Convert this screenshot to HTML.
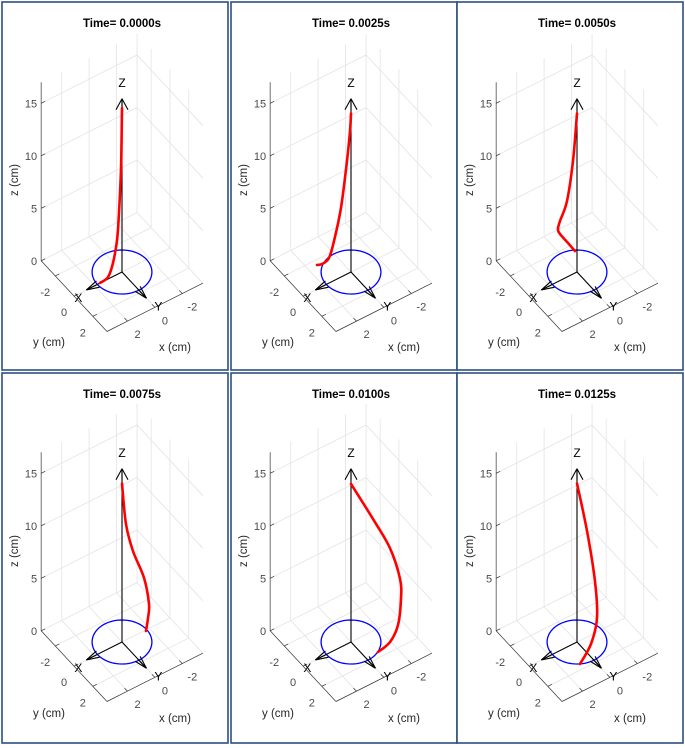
<!DOCTYPE html>
<html><head><meta charset="utf-8"><style>
html,body{margin:0;padding:0;background:#fff;}
svg{display:block;font-family:"Liberation Sans",Arial,sans-serif;}
</style></head><body>
<svg id="fig" width="685" height="748" viewBox="0 0 685 748"></svg>
<script>
// ---- data ----
const titles = ["Time= 0.0000s","Time= 0.0025s","Time= 0.0050s","Time= 0.0075s","Time= 0.0100s","Time= 0.0125s"];
const zTicks = [0,5,10,15];
const xyTicks = [-2,0,2];
const rodX0 = [0,0.07,0.22,0.36,0.66,1.02,1.61];
const rodZ0 = [15.6,10.0,5.8,3.3,1.29,0.19,0.01];
const rodX1 = [0,0.07,0.29,0.73,1.24,1.61,2.12,2.48];
const rodZ1 = [15.1,13.5,10.8,6.6,3.77,2.39,2.15,2.30];
const rodX2 = [0,0.29,0.73,1.24,1.39,1.24,0.66,0.15];
const rodZ2 = [15.1,10.8,7.24,5.67,5.01,4.43,3.2,2.1];
const rodX3 = [0,-0.29,-0.80,-1.61,-1.97,-1.90,-1.75];
const rodZ3 = [15.1,11.05,8.14,5.04,2.32,1.04,-0.1];
const rodX4 = [0,-1.61,-2.85,-3.58,-3.65,-3.43,-2.85,-1.97];
const rodZ4 = [15.05,10.65,7.05,3.65,1.7,-0.64,-1.87,-2.25];
const rodX5 = [0,-0.73,-1.31,-1.46,-1.02,-0.22];
const rodZ5 = [15.1,10.1,4.95,1.33,-0.86,-2.24];
const rodXs = [rodX0,rodX1,rodX2,rodX3,rodX4,rodX5];
const rodZs = [rodZ0,rodZ1,rodZ2,rodZ3,rodZ4,rodZ5];
const circleRadius = 1.8;

const NS="http://www.w3.org/2000/svg";
const svg=document.getElementById('fig');
const lefts=[2,231,457], tops=[2,373], W=226, Hs=[368,370];
const L=3.5, ZMAX=17;
function mk(tag,attrs,parent){const e=document.createElementNS(NS,tag);for(const k in attrs)e.setAttribute(k,attrs[k]);parent.appendChild(e);return e;}
function txt(s,x,y,attrs,parent){const t=mk('text',Object.assign({x:x,y:y},attrs),parent);t.textContent=s;return t;}

for(let p=0;p<6;p++){
  const col=p%3,row=Math.floor(p/3);
  const ox=lefts[col], oy=tops[row];
  const cx=ox+120, cy=oy+270-row;
  const P=(x,y,z)=>[cx-13.7*x+9.4*y, cy+6.9*x+10.1*y-10.5*z];
  const g=mk('g',{},svg);
  
  
  const fr=mk('rect',{x:ox,y:oy,width:W,height:Hs[row],fill:'#fff',stroke:'#2d4f80','stroke-width':1.6},g);
  
  
  const line=(a,b,st,w,par)=>mk('line',{x1:a[0],y1:a[1],x2:b[0],y2:b[1],stroke:st,'stroke-width':w},par||g);
  const grid=mk('g',{},g);
  
  
  const gc='#e3e3e3';
  xyTicks.forEach(v=>{
    line(P(v,-L,0),P(v,L,0),gc,0.8,grid);
    line(P(-L,v,0),P(L,v,0),gc,0.8,grid);
    line(P(v,-L,0),P(v,-L,ZMAX),gc,0.8,grid);
    line(P(-L,v,0),P(-L,v,ZMAX),gc,0.8,grid);
  });
  zTicks.forEach(z=>{
    line(P(L,-L,z),P(-L,-L,z),gc,0.8,grid);
    line(P(-L,-L,z),P(-L,L,z),gc,0.8,grid);
  });
  line(P(-L,-L,0),P(-L,-L,ZMAX),gc,0.8,grid);
  const ax=mk('g',{},g);
  
  
  const ac='#333';
  line(P(L,-L,0),P(L,-L,ZMAX),ac,0.7,ax);
  line(P(L,-L,0),P(L,L,0),ac,0.7,ax);
  line(P(L,L,0),P(-L,L,0),ac,0.7,ax);
  const tc='#4a4a4a';
  zTicks.forEach(z=>{
    const a=P(L,-L,z);
    line(a,[a[0]+4,a[1]-2],ac,0.7,ax);
    const t=txt(String(z),a[0]-4,a[1]+4,{'font-size':11,fill:tc,'text-anchor':'end'},ax);
    
    
  });
  xyTicks.forEach(v=>{
    const a=P(L,v,0);
    line(a,[a[0]+4,a[1]-2],ac,0.7,ax);
    const t=txt(String(v),a[0]-10,a[1]+20,{'font-size':11,fill:tc,'text-anchor':'middle'},ax);
    
    
    const b=P(v,L,0);
    line(b,[b[0]-3,b[1]-3],ac,0.7,ax);
    const u=txt(String(v),b[0]+10,b[1]+17,{'font-size':11,fill:tc,'text-anchor':'middle'},ax);
    
    
  });
  const zl=txt('z (cm)',0,0,{'font-size':11.5,fill:'#262626','text-anchor':'middle',transform:`translate(${ox+16},${oy+178}) rotate(-90)`},ax);
  
  
  const yl=txt('y (cm)',ox+47,oy+344,{'font-size':11.5,fill:'#262626','text-anchor':'middle'},ax);
  
  
  const xl=txt('x (cm)',ox+173,oy+349,{'font-size':11.5,fill:'#262626','text-anchor':'middle'},ax);
  
  
  const ti=txt(titles[p],ox+120,oy+25,{'font-size':11.5,'font-weight':'bold',fill:'#000','text-anchor':'middle'},g);
  
  
  let cd='';
  for(let i=0;i<=72;i++){const t=i/72*2*Math.PI;const q=P(circleRadius*Math.cos(t),circleRadius*Math.sin(t),0);cd+=(i?'L':'M')+q[0].toFixed(2)+','+q[1].toFixed(2);}
  const circ=mk('path',{d:cd+'Z',fill:'none',stroke:'#0000ff','stroke-width':1.3},g);
  
  
  const ar=mk('g',{},g);
  
  
  const o=P(0,0,0);
  const arrow=(tip,hl,hw)=>{
    line(o,tip,'#000',1.1,ar);
    const dx=o[0]-tip[0],dy=o[1]-tip[1],d=Math.hypot(dx,dy),ux=dx/d,uy=dy/d;
    const b=[tip[0]+ux*hl,tip[1]+uy*hl];
    line(tip,[b[0]-uy*hw,b[1]+ux*hw],'#000',1.1,ar);
    line(tip,[b[0]+uy*hw,b[1]-ux*hw],'#000',1.1,ar);
    line(tip,b,'#000',1.1,ar);
  };
  const zt=P(0,0,16.5), xt=P(2.6,0,0), yt=P(0,2.6,0);
  arrow(zt,11,6);
  arrow(xt,13,3.5);
  arrow(yt,13,3.5);
  txt('Z',zt[0],zt[1]-12,{'font-size':12,fill:'#000','text-anchor':'middle'},ar);
  txt('X',xt[0]-8,xt[1]+12,{'font-size':12,fill:'#000','text-anchor':'middle'},ar);
  txt('Y',yt[0]+12,yt[1]+12,{'font-size':12,fill:'#000','text-anchor':'middle'},ar);
  const pts=rodXs[p].map((x,i)=>P(x,0,rodZs[p][i]));
  let d='M'+pts[0][0].toFixed(2)+','+pts[0][1].toFixed(2);
  for(let i=0;i<pts.length-1;i++){
    const p0=pts[Math.max(i-1,0)],p1=pts[i],p2=pts[i+1],p3=pts[Math.min(i+2,pts.length-1)];
    const c1=[p1[0]+(p2[0]-p0[0])/6,p1[1]+(p2[1]-p0[1])/6];
    const c2=[p2[0]-(p3[0]-p1[0])/6,p2[1]-(p3[1]-p1[1])/6];
    d+=`C${c1[0].toFixed(2)},${c1[1].toFixed(2)} ${c2[0].toFixed(2)},${c2[1].toFixed(2)} ${p2[0].toFixed(2)},${p2[1].toFixed(2)}`;
  }
  const rod=mk('path',{d:d,fill:'none',stroke:'#ff0000','stroke-width':2.6,'stroke-linecap':'round','stroke-linejoin':'round'},g);
  
  
}
</script>
</body></html>
